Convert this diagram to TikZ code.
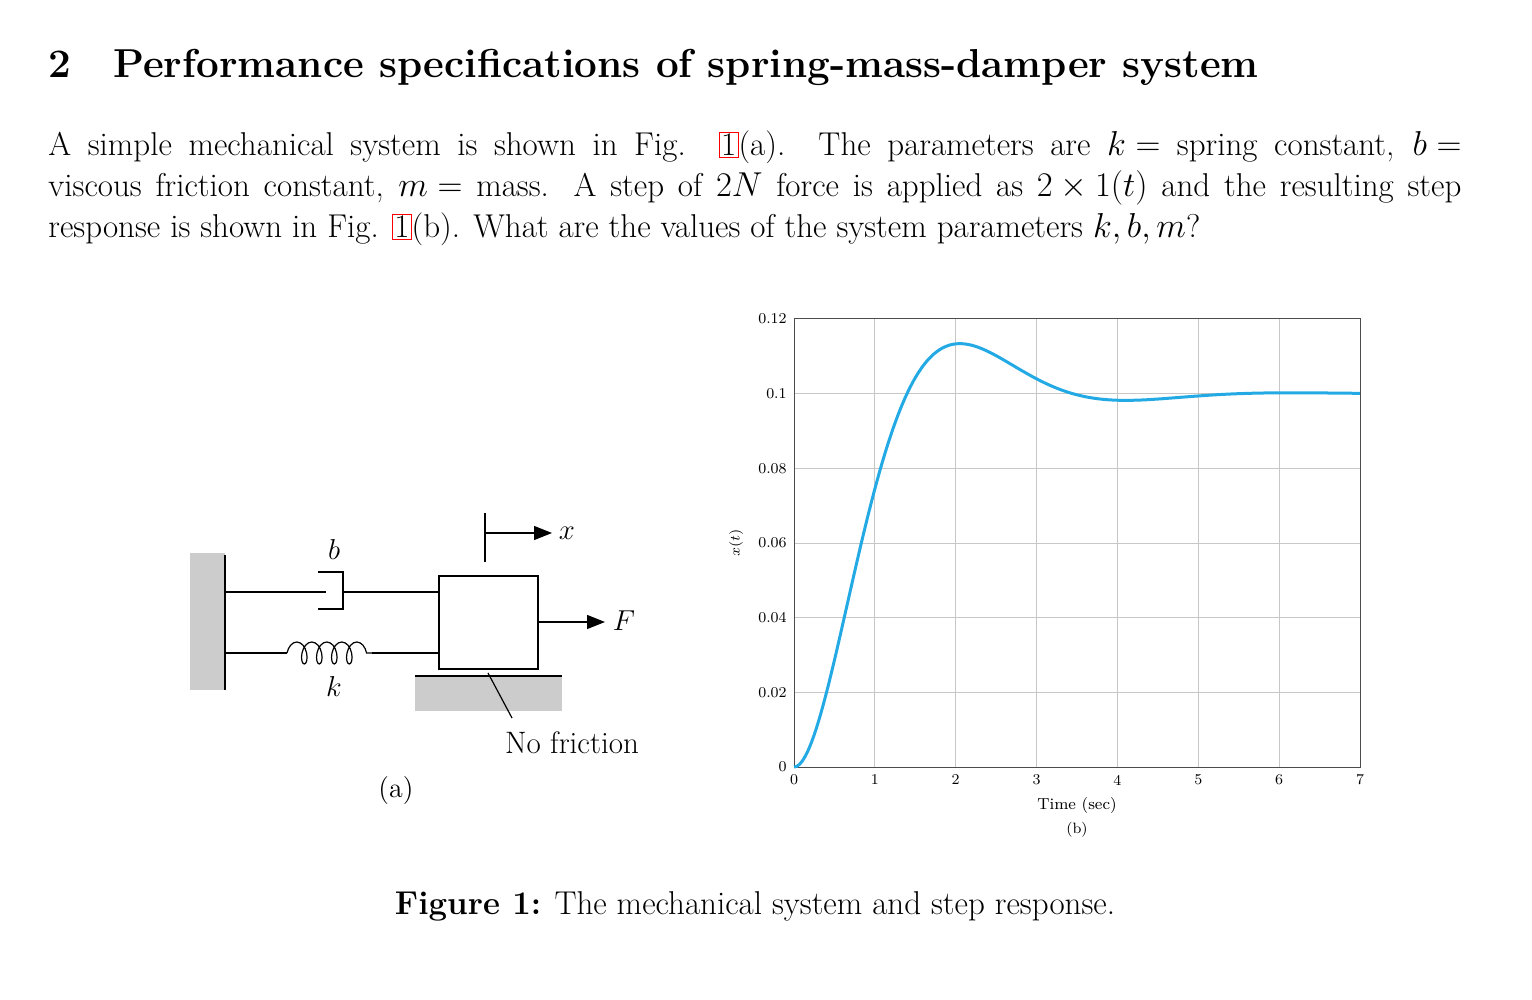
\documentclass[tikz,border=0pt]{standalone}
\usetikzlibrary{decorations.pathmorphing,arrows.meta}
\newcommand{\rbox}[1]{{\color{red}\fboxsep=0.6pt\fboxrule=0.5pt\fbox{\color{black}#1}}}
\begin{document}
\begin{tikzpicture}[x=0.5pt,y=-0.5pt,
  body/.style={anchor=base west,inner sep=0pt,font=\fontsize{16.5}{20}\selectfont},
  tick/.style={inner sep=1pt,font=\fontsize{7.5}{8}\selectfont},
  gridl/.style={draw=black!22,line width=0.4pt},
  mech/.style={line width=0.6pt},
  lab/.style={inner sep=0pt,font=\fontsize{15}{16}\selectfont},
  arr/.style={mech,-{Triangle[length=9pt,width=7pt]}}]
\useasboundingbox (0,0) rectangle (1532,1000);
% heading
\node[anchor=base west,inner sep=0pt,font=\fontsize{20.2}{24}\bfseries\selectfont] (h2) at (48,78) {2};
\node[anchor=base west,inner sep=0pt,font=\fontsize{20.2}{24}\bfseries\selectfont] (ht) at (113,78) {Performance specifications of spring-mass-damper system};
% paragraph
\node[body] (p1) at (48,156) {\makebox[706.5pt][s]{A simple mechanical system is shown in Fig. \rbox{1}(a). The parameters are \mbox{$k=$} spring constant, \mbox{$b=$}}};
\node[body] (p2) at (48,197) {\makebox[706.5pt][s]{viscous friction constant, \mbox{$m=$} mass. A step of $2N$ force is applied as \mbox{$2\times 1(t)$} and the resulting step}};
\node[body] (p3) at (48,238) {response is shown in Fig. \rbox{1}(b). What are the values of the system parameters $k,b,m$?};
% mechanical system
\fill[black!20] (190,553) rectangle (225,690);
\draw[mech] (225,555) -- (225,690);
\fill[black!20] (415,677) rectangle (562,711);
\draw[mech] (415,676) -- (562,676);
\node[mech,draw,minimum width=49.5pt,minimum height=46.5pt,inner sep=0pt] (mass) at (488.5,622.5) {};
\draw[mech] (225,592) -- (326,592);
\draw[mech] (318,572) -- (343,572) -- (343,609) -- (318,609);
\draw[mech] (343,592) -- (mass.west |- 0,592);
\draw[mech] (225,653) -- (287,653);
\draw[mech,decorate,decoration={coil,aspect=0.55,segment length=7.5pt,amplitude=5.5pt}] (287,653) -- (372,653);
\draw[mech] (372,653) -- (mass.west |- 0,653);
\coordinate (fr) at (488,673);
\coordinate (frl) at (512,718);
\draw[mech] (fr) -- (frl);
\coordinate (xm) at (485,513);
\draw[mech] (xm) -- (485,562);
\coordinate (xa) at (552,533);
\draw[arr] (485,533) -- (xa);
\node[lab] (xl) at (567,533) {$x$};
\coordinate (fa) at (605,622);
\draw[arr] (mass.east |- 0,622) -- (fa);
\node[lab] (Fl) at (624,621) {$F$};
\node[lab] (bl) at (334,549) {$b$};
\node[lab] (kl) at (334,686) {$k$};
\node[lab,font=\fontsize{15.5}{16}\selectfont] (nf) at (572,743) {No friction};
\node[lab,font=\fontsize{14}{16}\selectfont] (al) at (396,791) {(a)};
% plot
\foreach \i in {1,...,6} \draw[gridl] ({794+80.857*\i},319) -- ({794+80.857*\i},767);
\foreach \j in {1,...,5} \draw[gridl] (794,{767-74.667*\j}) -- (1360,{767-74.667*\j});
\draw[line width=0.5pt,draw=black!70] (794,319) rectangle (1360,767);
\foreach \i in {0,...,7} \node[tick] at ({794+80.857*\i},780) {\i};
\foreach \v/\j in {0/0,0.02/1,0.04/2,0.06/3,0.08/4,0.1/5,0.12/6} \node[tick,anchor=east] at (789,{767-74.667*\j}) {\v};
\node[tick,rotate=90] (yl) at (736,543) {$x(t)$};
\node[tick,font=\fontsize{8}{9}\selectfont] (tl) at (1077,805) {Time (sec)};
\node[tick] (bb) at (1077,830) {(b)};
\definecolor{curve}{RGB}{35,170,228}
\draw[curve,line width=1.5pt] plot[domain=0:7,samples=200] ({794+80.857*\x},{767-3733*0.1*(1-exp(-0.98*\x)*(cos(deg(1.532*\x))+0.641*sin(deg(1.532*\x))))});
% caption
\node[anchor=base,inner sep=0pt,font=\fontsize{16.5}{20}\selectfont] (cap) at (755,914) {\textbf{Figure 1:} The mechanical system and step response.};
\end{tikzpicture}
\end{document}
